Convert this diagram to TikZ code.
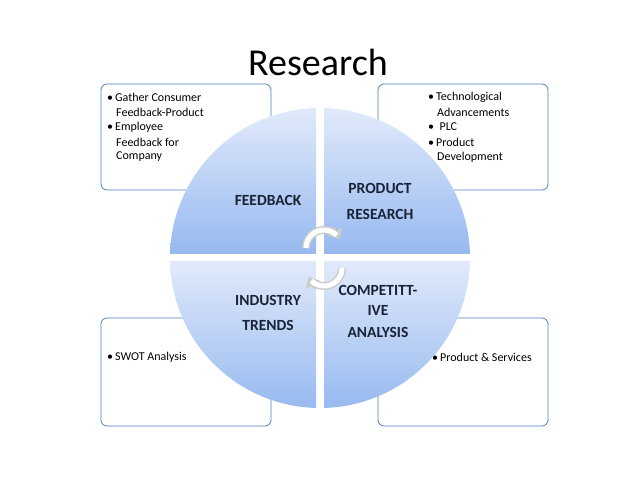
\documentclass[tikz,border=0pt]{standalone}
\usepackage{fontspec}
\setmainfont{Carlito}
\usetikzlibrary{arrows.meta}
\definecolor{bbord}{RGB}{79,129,189}
\definecolor{qdark}{RGB}{150,185,240}
\definecolor{qlight}{RGB}{225,234,250}
\definecolor{navy}{RGB}{25,35,55}
\begin{document}
\begin{tikzpicture}[x=1pt,y=-1pt,
  sbox/.style={draw=bbord,line width=0.8pt,fill=white,rounded corners=6pt},
  btxt/.style={anchor=west,font=\fontsize{12}{13}\selectfont,inner sep=0pt},
  qtxt/.style={font=\bfseries\fontsize{15.5}{16}\selectfont,text=navy,inner sep=0pt},
  carrow/.style={line width=8pt,draw=gray!40,-{Triangle[length=9pt,width=16pt]}},
  cinner/.style={line width=5pt,draw=white}]
\useasboundingbox (0,0) rectangle (638,478);
\node (title) at (318,62) {\fontsize{38}{40}\selectfont Research};
\draw[sbox] (101,84) rectangle (271,190);
\draw[sbox] (378,84) rectangle (548,190);
\draw[sbox] (101,318) rectangle (271,426);
\draw[sbox] (378,318) rectangle (548,426);
\node[btxt] (t1) at (107,97) {•\,Gather Consumer};
\node[btxt] (t2) at (116,112) {Feedback-Product};
\node[btxt] (t3) at (107,127) {•\,Employee};
\node[btxt] (t4) at (116,142) {Feedback for};
\node[btxt] (t5) at (116,157) {Company};
\node[btxt] (r1) at (428,97) {•\,Technological};
\node[btxt] (r2) at (437,112) {Advancements};
\node[btxt] (r3) at (428,127) {• \ PLC};
\node[btxt] (r4) at (428,142) {•\,Product};
\node[btxt] (r5) at (437,157) {Development};
\node[btxt] (s1) at (107,357) {•\,SWOT Analysis};
\node[btxt] (p1) at (432,357) {•\,Product \& Services};
\begin{scope}
  \clip (320,258) circle (150);
  \shade[top color=qlight,bottom color=qdark] (170,108) rectangle (316,254);
  \shade[top color=qlight,bottom color=qdark] (324,108) rectangle (470,254);
  \shade[top color=qlight,bottom color=qdark] (170,262) rectangle (316,410);
  \shade[top color=qlight,bottom color=qdark] (324,262) rectangle (470,410);
\end{scope}
\node[qtxt] (fb) at (268,200) {FEEDBACK};
\node[qtxt] (pr1) at (380,188) {PRODUCT};
\node[qtxt] (pr2) at (380,214) {RESEARCH};
\node[qtxt] (in1) at (268,300) {INDUSTRY};
\node[qtxt] (in2) at (268,325) {TRENDS};
\node[qtxt] (co1) at (378,290) {COMPETITT-};
\node[qtxt] (co2) at (378,310) {IVE};
\node[qtxt] (co3) at (378,332) {ANALYSIS};
% center arrows
\coordinate (a1) at (306,248);
\coordinate (b1) at (342,268);
\draw[carrow] (a1) arc[start angle=180,end angle=330,radius=18];
\draw[cinner] (a1) arc[start angle=180,end angle=315,radius=18];
\draw[carrow] (b1) arc[start angle=0,end angle=150,radius=18];
\draw[cinner] (b1) arc[start angle=0,end angle=135,radius=18];
\end{tikzpicture}
\end{document}
